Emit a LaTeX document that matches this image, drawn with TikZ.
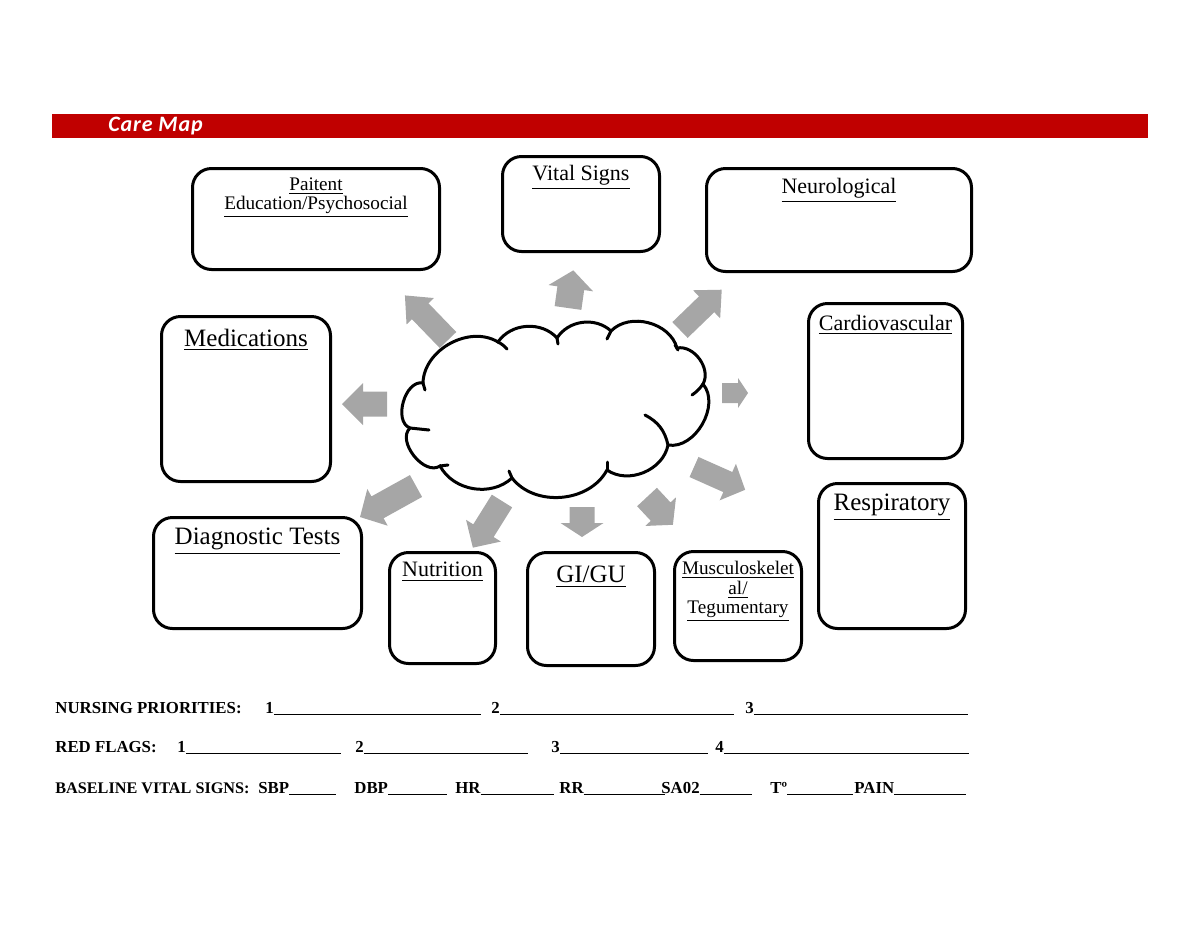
\documentclass[tikz,border=0pt]{standalone}
\usepackage{fontspec}
\setmainfont{Liberation Serif}
\newfontfamily\barfont[LetterSpace=4]{Carlito}
\usetikzlibrary{positioning}
\definecolor{barred}{HTML}{C00000}
\definecolor{arrowgray}{HTML}{A6A6A6}
\newcommand{\blank}[1]{\rule[-1.2pt]{#1}{0.6pt}}
% tail, angle, length, shaft, head width, head length
\newcommand{\blockarrow}[6]{\fill[gray arrow,shift={(#1)},rotate=#2] (0,-#4/2) -- (#3-#6,-#4/2) -- (#3-#6,-#5/2) -- (#3,0) -- (#3-#6,#5/2) -- (#3-#6,#4/2) -- (0,#4/2) -- cycle;}

\begin{document}
\begin{tikzpicture}[x=0.5pt,y=0.5pt,
    care box/.style={draw,line width=1.5pt,rounded corners=9.5pt,inner sep=0pt},
    big title/.style={inner sep=0pt,font=\fontsize{12.5}{14}\selectfont},
    mid title/.style={inner sep=0pt,font=\fontsize{11}{13}\selectfont},
    small title/.style={inner sep=0pt,align=center,font=\fontsize{9.6}{9.8}\selectfont},
    form text/.style={anchor=base west,inner sep=0pt,font=\fontsize{8.4}{10}\selectfont\bfseries},
    gray arrow/.style={fill=arrowgray},
    cloud line/.style={line width=1.5pt,line cap=round}]
  \useasboundingbox (0,0) rectangle (1200,-927);

  \node[fill=barred,minimum width=548pt,minimum height=12pt,inner sep=0pt] (bar) at (600,-126) {};
  \node[anchor=west,inner sep=0pt,text=white,font=\barfont\bfseries\itshape\fontsize{11}{13}\selectfont] (bartitle) at (108,-126) {Care Map};

  % boxes
  \node[care box,minimum width=123.5pt,minimum height=50.5pt] (paitent) at (316,-219) {};
  \node[care box,minimum width=78.5pt,minimum height=47.5pt] (vital) at (581,-204) {};
  \node[care box,minimum width=132.5pt,minimum height=51.5pt] (neuro) at (839,-220) {};
  \node[care box,minimum width=77pt,minimum height=77.5pt] (cardio) at (885.5,-381) {};
  \node[care box,minimum width=84.5pt,minimum height=82.5pt] (med) at (246,-399) {};
  \node[care box,minimum width=73.5pt,minimum height=72.5pt] (resp) at (892,-556) {};
  \node[care box,minimum width=104pt,minimum height=55.5pt] (diag) at (257.5,-573) {};
  \node[care box,minimum width=53pt,minimum height=55.5pt] (nutr) at (442.5,-608) {};
  \node[care box,minimum width=63.5pt,minimum height=56.5pt] (gigu) at (591,-609) {};
  \node[care box,minimum width=63.5pt,minimum height=54.5pt] (musc) at (738,-606) {};

  \node[small title,below=5pt of paitent.north] (paitentt) {\underline{Paitent}\\\underline{Education/Psychosocial}};
  \node[mid title,below=5pt of vital.north] (vitalt) {\underline{Vital Signs}};
  \node[mid title,below=5.5pt of neuro.north] (neurot) {\underline{Neurological}};
  \node[mid title,below=6.5pt of cardio.north] (cardiot) {\underline{Cardiovascular}};
  \node[big title,below=7pt of med.north] (medt) {\underline{Medications}};
  \node[big title,below=6pt of resp.north] (respt) {\underline{Respiratory}};
  \node[big title,below=6pt of diag.north] (diagt) {\underline{Diagnostic Tests}};
  \node[mid title,below=5.5pt of nutr.north] (nutrt) {\underline{Nutrition}};
  \node[big title,below=7.5pt of gigu.north] (gigut) {\underline{GI/GU}};
  \node[small title,below=5.5pt of musc.north] (musct) {\underline{Musculoskelet}\\\underline{al/}\\\underline{Tegumentary}};

  % cloud
  \draw[cloud line] (423,-383) to[bend left=60] (498,-342) to[bend left=52] (557,-338)
    to[bend left=50] (611,-331) to[bend left=60] (677,-348) to[bend left=65] (703,-384)
    to[bend left=70] (668,-445) to[bend left=57] (607,-470) to[bend left=57] (512,-478)
    to[bend left=52] (440,-466) to[bend left=85] (410,-428) to[bend left=85] (423,-383);
  \draw[cloud line] (498,-342) to[bend left=10] (507,-349);
  \draw[cloud line] (557,-338) -- (558,-344);
  \draw[cloud line] (611,-331) -- (607,-339);
  \draw[cloud line] (675,-345) -- (678,-350);
  \draw[cloud line] (703,-384) to[bend left=10] (692,-395);
  \draw[cloud line] (645,-415) to[bend left=25] (668,-445);
  \draw[cloud line] (607,-470) -- (607,-462);
  \draw[cloud line] (512,-478) -- (509,-471);
  \draw[cloud line] (440,-466) -- (448,-465);
  \draw[cloud line] (410,-428) -- (429,-430);
  \draw[cloud line] (423,-383) -- (425,-390);

  % arrows
  \blockarrow{448,-340}{134}{62}{23}{38}{22}
  \blockarrow{568,-308}{82}{38}{27}{45}{18}
  \blockarrow{680,-330}{44}{58}{22}{39}{21}
  \blockarrow{722,-393}{0}{26}{20}{30}{10}
  \blockarrow{694,-467}{-24}{56}{22}{40}{19}
  \blockarrow{647,-497}{-47}{38}{27}{42}{18}
  \blockarrow{582,-507}{-90}{30}{25}{43}{14}
  \blockarrow{502,-501}{-122}{55}{24}{41}{20}
  \blockarrow{416,-486}{-151}{64}{25}{42}{20}
  \blockarrow{387,-404}{180}{45}{25}{42}{21}

  % form lines
  \node[form text] (np) at (55,-713) {NURSING PRIORITIES:};
  \node[form text] (np1) at (265,-713) {1\blank{103.5pt}};
  \node[form text] (np2) at (491,-713) {2\blank{117pt}};
  \node[form text] (np3) at (745,-713) {3\blank{107pt}};
  \node[form text] (rf) at (55,-752) {RED FLAGS:};
  \node[form text] (rf1) at (177,-752) {1\blank{77.5pt}};
  \node[form text] (rf2) at (355,-752) {2\blank{82pt}};
  \node[form text] (rf3) at (551,-752) {3\blank{74pt}};
  \node[form text] (rf4) at (715,-752) {4\blank{122.5pt}};
  \node[form text,font=\fontsize{8.1}{10}\selectfont\bfseries] (bv) at (55,-793) {BASELINE VITAL SIGNS:};
  \node[form text] (sbp) at (258,-793) {SBP\blank{23.5pt}};
  \node[form text] (dbp) at (354,-793) {DBP\blank{29.5pt}};
  \node[form text] (hr) at (455,-793) {HR\blank{36.5pt}};
  \node[form text] (rr) at (559,-793) {RR\blank{40.5pt}};
  \node[form text] (sao) at (661,-793) {SA02\blank{26pt}};
  \node[form text] (temp) at (770,-793) {Tº\blank{33pt}};
  \node[form text] (pain) at (854,-793) {PAIN\blank{36pt}};
\end{tikzpicture}
\end{document}
